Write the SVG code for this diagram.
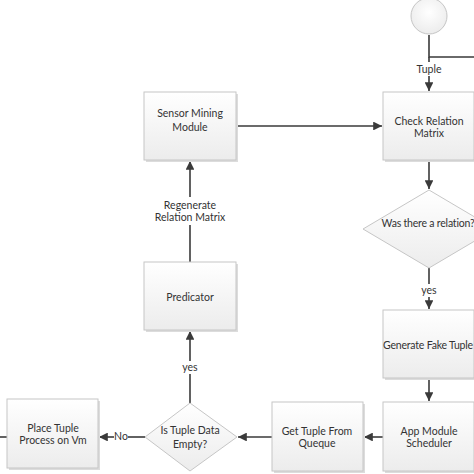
<svg xmlns="http://www.w3.org/2000/svg" width="474" height="474" viewBox="0 0 474 474">
<style>
.box{fill:url(#g);stroke:#c6c6c6;stroke-width:1}
.sh{fill:#dcdcdc}
.ln{fill:none;stroke:#3a3a3a;stroke-width:1.6}
.t{font-family:Lato,"Open Sans",sans-serif;font-size:10.5px;fill:#333;text-anchor:middle}
.n{letter-spacing:-0.2px}
</style>
<defs>
<linearGradient id="g" x1="0" y1="0" x2="0" y2="1">
<stop offset="0" stop-color="#ffffff"/>
<stop offset="1" stop-color="#ececec"/>
</linearGradient>
<radialGradient id="cg" cx="0.5" cy="0.4" r="0.6">
<stop offset="0" stop-color="#ffffff"/>
<stop offset="1" stop-color="#ececec"/>
</radialGradient>
<marker id="a" viewBox="0 0 10 10" refX="10" refY="5" markerWidth="5.5" markerHeight="5.5" orient="auto" markerUnits="strokeWidth">
<path d="M0,0 L10,5 L0,10 Z" fill="#3a3a3a"/>
</marker>
</defs>
<rect width="474" height="474" fill="#fff"/>
<g id="connectors">
<path class="ln" d="M429,35 V57 H474"/>
<path class="ln" d="M429,57 V62"/>
<path class="ln" d="M429,76 V91" marker-end="url(#a)"/>
<path class="ln" d="M236,126 H382" marker-end="url(#a)"/>
<path class="ln" d="M429,161 V189" marker-end="url(#a)"/>
<path class="ln" d="M429,268 V284"/>
<path class="ln" d="M429,297 V309" marker-end="url(#a)"/>
<path class="ln" d="M429,379 V401" marker-end="url(#a)"/>
<path class="ln" d="M383,437 H364" marker-end="url(#a)"/>
<path class="ln" d="M272,437 H238" marker-end="url(#a)"/>
<path class="ln" d="M190,403 V374"/>
<path class="ln" d="M190,361 V331" marker-end="url(#a)"/>
<path class="ln" d="M190,262 V225"/>
<path class="ln" d="M190,197 V161" marker-end="url(#a)"/>
<path class="ln" d="M145,437 H128"/>
<path class="ln" d="M114,437 H99" marker-end="url(#a)"/>
<path class="ln" d="M0,437 H7"/>
<text class="t" x="429" y="73">Tuple</text>
<text class="t" x="429" y="294">yes</text>
<text class="t" x="190" y="371">yes</text>
<text class="t" x="121" y="440">No</text>
<text class="t" x="190" y="209">Regenerate</text>
<text class="t" x="190" y="221">Relation Matrix</text>
</g>
<g id="start">
<circle cx="429" cy="16" r="18" fill="url(#cg)" stroke="#c6c6c6"/>
</g>
<g id="sensor">
<rect class="sh" x="146" y="94" width="92" height="68"/>
<rect class="box" x="144" y="92" width="92" height="68"/>
<text class="t" x="190" y="117">Sensor Mining</text>
<text class="t" x="190" y="131">Module</text>
</g>
<g id="check">
<rect class="sh" x="385" y="94" width="91" height="68"/>
<rect class="box" x="383" y="92" width="91" height="68"/>
<text class="t" x="429" y="125">Check Relation</text>
<text class="t" x="429" y="137">Matrix</text>
</g>
<g id="relation">
<path d="M429,190 L495,229 L429,268 L363,229 Z" fill="url(#g)" stroke="#c6c6c6"/>
<text class="t n" x="428" y="227">Was there a relation?</text>
</g>
<g id="predicator">
<rect class="sh" x="146" y="264" width="92" height="68"/>
<rect class="box" x="144" y="262" width="92" height="68"/>
<text class="t" x="190" y="301">Predicator</text>
</g>
<g id="fake">
<rect class="sh" x="385" y="312" width="91" height="68"/>
<rect class="box" x="383" y="310" width="91" height="68"/>
<text class="t n" x="428" y="349">Generate Fake Tuple</text>
</g>
<g id="scheduler">
<rect class="sh" x="385" y="404" width="91" height="69"/>
<rect class="box" x="383" y="402" width="91" height="69"/>
<text class="t" x="429" y="435">App Module</text>
<text class="t" x="429" y="447">Scheduler</text>
</g>
<g id="queue">
<rect class="sh" x="274" y="404" width="91" height="69"/>
<rect class="box" x="272" y="402" width="91" height="69"/>
<text class="t" x="317" y="435">Get Tuple From</text>
<text class="t" x="317" y="447">Queque</text>
</g>
<g id="empty">
<path d="M190,403 L237,437 L190,471 L145,437 Z" fill="url(#g)" stroke="#c6c6c6"/>
<text class="t" x="190" y="434">Is Tuple Data</text>
<text class="t" x="190" y="448">Empty?</text>
</g>
<g id="place">
<rect class="sh" x="9" y="401" width="91" height="69"/>
<rect class="box" x="7" y="399" width="91" height="69"/>
<text class="t" x="53" y="432">Place Tuple</text>
<text class="t" x="53" y="444">Process on Vm</text>
</g>
</svg>
